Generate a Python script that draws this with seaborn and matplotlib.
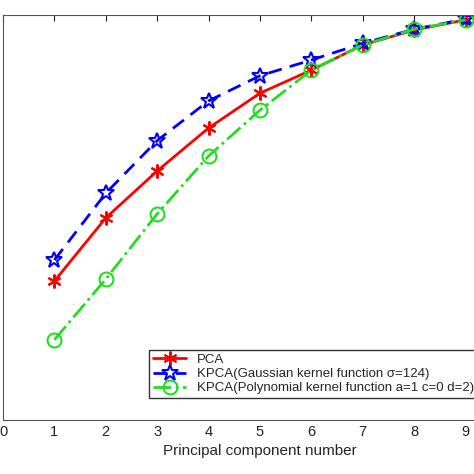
import matplotlib
matplotlib.use("Agg")
import matplotlib.pyplot as plt
import seaborn as sns
import pandas as pd

x = [1, 2, 3, 4, 5, 6, 7, 8, 9]
pca = [34.3, 49.9, 61.5, 72.1, 80.7, 86.4, 92.6, 96.3, 98.8]
kpca_gauss = [39.5, 56.0, 69.0, 78.8, 85.0, 88.9, 93.0, 96.5, 99.0]
kpca_poly = [19.8, 34.8, 50.9, 65.2, 76.5, 86.4, 92.6, 96.5, 98.8]
labels = ["PCA", "KPCA(Gaussian kernel function σ=124)",
          "KPCA(Polynomial kernel function a=1 c=0 d=2)"]

sns.set_style("white")
plt.rcParams['font.family'] = ['Liberation Sans', 'DejaVu Sans']
fig = plt.figure(figsize=(4.74, 4.74), dpi=100)
ax = fig.add_axes([3/474, 54/474, 514/474, 405/474])

sns.lineplot(x=x, y=pca, ax=ax, color="red", lw=2, marker=(6, 2, 0), ms=10,
             mew=1.5, mec="red", label=labels[0])
sns.lineplot(x=x, y=kpca_gauss, ax=ax, color="blue", lw=2, ls=(0, (5, 3)), marker="*",
             ms=12, mfc="none", mec="blue", mew=1.5, label=labels[1])
sns.lineplot(x=x, y=kpca_poly, ax=ax, color="#22dd22", lw=2, ls="-.", marker="o",
             ms=10, mfc="none", mec="#22dd22", mew=1.5, label=labels[2])

ax.set_xlim(0, 10)
ax.set_ylim(0, 100)
ax.set_xticks(range(0, 10))
ax.set_yticks(range(0, 101, 10))
ax.set_yticklabels([])
ax.tick_params(direction="in", length=4, labelsize=10.5, colors="#222222",
               top=True, right=True)
for s in ax.spines.values():
    s.set_color("#555555")
ax.set_xlabel("Principal component number", fontsize=11)
ax.legend(loc="lower left", bbox_to_anchor=(0.272, 0.037), fontsize=9.5,
          frameon=True, fancybox=False, edgecolor="#333333", framealpha=1,
          handlelength=2.5, borderpad=0.3, labelspacing=0.15)
fig.savefig("out.png", dpi=100)
